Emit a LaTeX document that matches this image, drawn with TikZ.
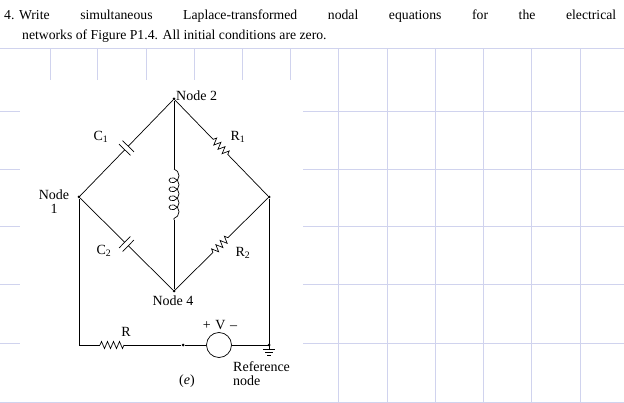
\documentclass[tikz,border=0pt]{standalone}
\usepackage{fontspec}
\setmainfont{Liberation Serif}
\usetikzlibrary{calc,decorations.pathmorphing,decorations.pathreplacing}
\tikzset{
  grid/.style={draw=cyan!30!blue!18, line width=1pt},
  wire/.style={line width=0.7pt},
  lbl/.style={font=\fontsize{14}{14}\selectfont, inner sep=0pt},
  zz/.style={decorate,decoration={zigzag,segment length=6pt,amplitude=3.5pt}},
  dot/.style={circle,fill,inner sep=0pt,minimum size=3pt}
}
\begin{document}
\begin{tikzpicture}[x=1pt,y=1pt]
\useasboundingbox (0,0) rectangle (624,402);
\fill[white] (0,0) rectangle (624,402);
% grid
\foreach \x in {50,97,146,194,242,290,338,387,435,483,531,580}
  \draw[grid] (\x,353) -- (\x,0);
\foreach \y in {353,290,232,175,117,59}
  \draw[grid] (0,\y) -- (624,\y);
\draw[grid] (0,0) -- (624,0);
% white area of circuit figure
\fill[white] (32,0) rectangle (303,322);
\fill[white] (0,0) rectangle (32,352);
\foreach \y in {290,232,175,117,59} \draw[grid] (0,\y) -- (20,\y);
% title
\node[anchor=west, font=\fontsize{13.7}{16}\selectfont, inner sep=0pt] (t1) at (4,386) {\makebox[612pt][l]{4. Write\hfill simultaneous\hfill Laplace-transformed\hfill nodal\hfill equations\hfill for\hfill the\hfill electrical}};
\node[anchor=west, font=\fontsize{13.7}{16}\selectfont, inner sep=0pt] (t2) at (22,366) {networks of Figure P1.4. All initial conditions are zero.};
% nodes
\node[dot] (n2) at (174,303) {};
\node[dot] (n1) at (79,205) {};
\node[dot] (n3) at (269,205) {};
\node[dot] (n4) at (174,111) {};
\node[dot] (d) at (183,57) {};
\coordinate (bl) at (79,57);
\coordinate (gr) at (269,57);
\node[circle,draw,line width=0.7pt,minimum size=25pt,inner sep=0pt] (V) at (219,57) {};
% C1
\coordinate (m1) at ($(n1)!0.5!(n2)$);
\draw[wire] (n1) -- ($(m1)!-2.5pt!(n2)$) ($(m1)!2.5pt!(n2)$) -- (n2);
\draw[wire] ($($(m1)!-2.5pt!(n2)$)!8pt!90:(n2)$) -- ($($(m1)!-2.5pt!(n2)$)!8pt!-90:(n2)$);
\draw[wire] ($($(m1)!2.5pt!(n2)$)!8pt!90:(n1)$) -- ($($(m1)!2.5pt!(n2)$)!8pt!-90:(n1)$);
% C2
\coordinate (m2) at ($(n1)!0.5!(n4)$);
\draw[wire] (n1) -- ($(m2)!-2.5pt!(n4)$) ($(m2)!2.5pt!(n4)$) -- (n4);
\draw[wire] ($($(m2)!-2.5pt!(n4)$)!8pt!90:(n4)$) -- ($($(m2)!-2.5pt!(n4)$)!8pt!-90:(n4)$);
\draw[wire] ($($(m2)!2.5pt!(n4)$)!8pt!90:(n1)$) -- ($($(m2)!2.5pt!(n4)$)!8pt!-90:(n1)$);
% R1
\coordinate (m3) at ($(n2)!0.5!(n3)$);
\draw[wire] (n2) -- ($(m3)!-12pt!(n3)$);
\draw[wire,zz] ($(m3)!-12pt!(n3)$) -- ($(m3)!12pt!(n3)$);
\draw[wire] ($(m3)!12pt!(n3)$) -- (n3);
% R2
\coordinate (m4) at ($(n4)!0.5!(n3)$);
\draw[wire] (n4) -- ($(m4)!-12pt!(n3)$);
\draw[wire,zz] ($(m4)!-12pt!(n3)$) -- ($(m4)!12pt!(n3)$);
\draw[wire] ($(m4)!12pt!(n3)$) -- (n3);
% inductor
\draw[wire] (n2) -- (174,233);
\draw[wire,decorate,decoration={coil,aspect=0.9,segment length=9pt,amplitude=5pt}] (174,233) -- (174,182);
\draw[wire] (174,182) -- (n4);
% bottom loop
\draw[wire] (n1) -- (bl) -- (100,57);
\draw[wire,zz] (100,57) -- (124,57);
\draw[wire] (124,57) -- (d) -- (V.west);
\draw[wire] (V.east) -- (gr) -- (n3);
% ground
\draw[wire] (gr) -- (269,53);
\draw[wire] (263,53) -- (275,53) (265,50) -- (273,50) (267,47) -- (271,47);
\fill (gr) circle (1.5pt);
% labels
\node[lbl,anchor=west] (L2) at (176,306) {Node 2};
\node[lbl] (LC1) at (101,265) {C\textsubscript{1}};
\node[lbl] (LR1) at (238,265) {R\textsubscript{1}};
\node[lbl,align=center] (L1) at (54,200) {Node\\1};
\node[lbl] (LC2) at (104,151) {C\textsubscript{2}};
\node[lbl] (LR2) at (243,149) {R\textsubscript{2}};
\node[lbl] (L4) at (173,101) {Node 4};
\node[lbl] (LR) at (126,70) {R};
\node[lbl] (LV) at (220,77) {+\,\,V\,\,--};
\node[lbl,align=left,anchor=north west] (Lref) at (233,41) {Reference\\node};
\node[lbl] (Le) at (187,21) {(\textit{e})};
\end{tikzpicture}
\end{document}
